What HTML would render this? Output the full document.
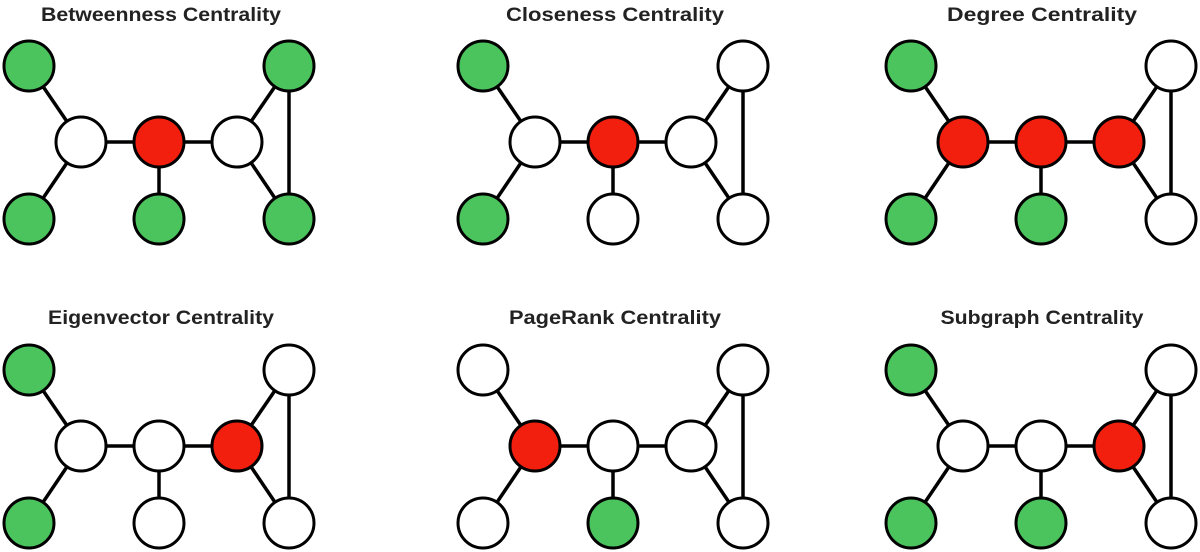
<!DOCTYPE html>
<html><head><meta charset="utf-8"><style>
html,body{margin:0;padding:0;background:#fff;width:1200px;height:552px;overflow:hidden}
</style></head><body>
<svg width="1200" height="552" viewBox="0 0 1200 552" xmlns="http://www.w3.org/2000/svg">
<defs>
<g id="edges" stroke="#000" stroke-width="3.5" fill="none">
<line x1="29" y1="66" x2="81" y2="142"/>
<line x1="29" y1="219" x2="81" y2="142"/>
<line x1="81" y1="142" x2="237" y2="142"/>
<line x1="159" y1="142" x2="159" y2="219"/>
<line x1="237" y1="142" x2="289" y2="66"/>
<line x1="237" y1="142" x2="289" y2="219"/>
<line x1="289" y1="66" x2="289" y2="219"/>
</g>
</defs>
<g font-family="'Liberation Sans',sans-serif" font-weight="bold" font-size="19" text-anchor="middle" fill="#222">
<text x="161" y="21" textLength="240" lengthAdjust="spacingAndGlyphs">Betweenness Centrality</text>
<text x="615" y="21" textLength="218" lengthAdjust="spacingAndGlyphs">Closeness Centrality</text>
<text x="1042" y="21" textLength="190" lengthAdjust="spacingAndGlyphs">Degree Centrality</text>
<text x="161" y="324" textLength="226" lengthAdjust="spacingAndGlyphs">Eigenvector Centrality</text>
<text x="615" y="324" textLength="212" lengthAdjust="spacingAndGlyphs">PageRank Centrality</text>
<text x="1042" y="324" textLength="203" lengthAdjust="spacingAndGlyphs">Subgraph Centrality</text>
</g>
<g stroke="#000" stroke-width="3">
<!-- panel 1 -->
<g transform="translate(0,0)">
<use href="#edges"/>
<circle cx="29" cy="66" r="25" fill="#4CC45E"/><circle cx="29" cy="219" r="25" fill="#4CC45E"/>
<circle cx="81" cy="142" r="25" fill="#fff"/><circle cx="159" cy="142" r="25" fill="#F21E0E"/>
<circle cx="159" cy="219" r="25" fill="#4CC45E"/><circle cx="237" cy="142" r="25" fill="#fff"/>
<circle cx="289" cy="66" r="25" fill="#4CC45E"/><circle cx="289" cy="219" r="25" fill="#4CC45E"/>
</g>
<!-- panel 2 -->
<g transform="translate(454,0)">
<use href="#edges"/>
<circle cx="29" cy="66" r="25" fill="#4CC45E"/><circle cx="29" cy="219" r="25" fill="#4CC45E"/>
<circle cx="81" cy="142" r="25" fill="#fff"/><circle cx="159" cy="142" r="25" fill="#F21E0E"/>
<circle cx="159" cy="219" r="25" fill="#fff"/><circle cx="237" cy="142" r="25" fill="#fff"/>
<circle cx="289" cy="66" r="25" fill="#fff"/><circle cx="289" cy="219" r="25" fill="#fff"/>
</g>
<!-- panel 3 -->
<g transform="translate(882,0)">
<use href="#edges"/>
<circle cx="29" cy="66" r="25" fill="#4CC45E"/><circle cx="29" cy="219" r="25" fill="#4CC45E"/>
<circle cx="81" cy="142" r="25" fill="#F21E0E"/><circle cx="159" cy="142" r="25" fill="#F21E0E"/>
<circle cx="159" cy="219" r="25" fill="#4CC45E"/><circle cx="237" cy="142" r="25" fill="#F21E0E"/>
<circle cx="289" cy="66" r="25" fill="#fff"/><circle cx="289" cy="219" r="25" fill="#fff"/>
</g>
<!-- panel 4 -->
<g transform="translate(0,304)">
<use href="#edges"/>
<circle cx="29" cy="66" r="25" fill="#4CC45E"/><circle cx="29" cy="219" r="25" fill="#4CC45E"/>
<circle cx="81" cy="142" r="25" fill="#fff"/><circle cx="159" cy="142" r="25" fill="#fff"/>
<circle cx="159" cy="219" r="25" fill="#fff"/><circle cx="237" cy="142" r="25" fill="#F21E0E"/>
<circle cx="289" cy="66" r="25" fill="#fff"/><circle cx="289" cy="219" r="25" fill="#fff"/>
</g>
<!-- panel 5 -->
<g transform="translate(454,304)">
<use href="#edges"/>
<circle cx="29" cy="66" r="25" fill="#fff"/><circle cx="29" cy="219" r="25" fill="#fff"/>
<circle cx="81" cy="142" r="25" fill="#F21E0E"/><circle cx="159" cy="142" r="25" fill="#fff"/>
<circle cx="159" cy="219" r="25" fill="#4CC45E"/><circle cx="237" cy="142" r="25" fill="#fff"/>
<circle cx="289" cy="66" r="25" fill="#fff"/><circle cx="289" cy="219" r="25" fill="#fff"/>
</g>
<!-- panel 6 -->
<g transform="translate(882,304)">
<use href="#edges"/>
<circle cx="29" cy="66" r="25" fill="#4CC45E"/><circle cx="29" cy="219" r="25" fill="#4CC45E"/>
<circle cx="81" cy="142" r="25" fill="#fff"/><circle cx="159" cy="142" r="25" fill="#fff"/>
<circle cx="159" cy="219" r="25" fill="#4CC45E"/><circle cx="237" cy="142" r="25" fill="#F21E0E"/>
<circle cx="289" cy="66" r="25" fill="#fff"/><circle cx="289" cy="219" r="25" fill="#fff"/>
</g>
</g>
</svg>
</body></html>
